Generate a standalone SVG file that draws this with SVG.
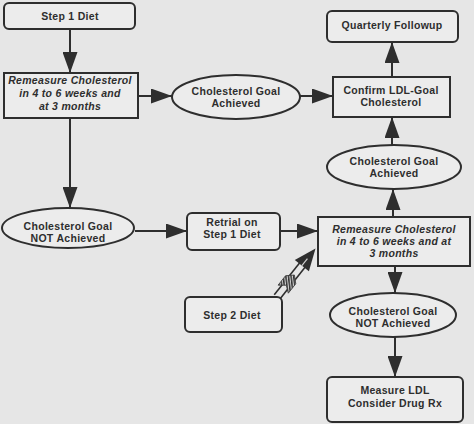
<svg xmlns="http://www.w3.org/2000/svg" width="474" height="424" viewBox="0 0 474 424">
<style>
  .box{fill:#ececec;stroke:#2e2e2e;stroke-width:2}
  .t{font-family:"Liberation Sans",Arial,sans-serif;font-weight:bold;font-size:10.5px;letter-spacing:0.3px;fill:#2e2e2e;text-anchor:middle}
  .it{font-style:italic}
  .c{stroke:#2e2e2e;stroke-width:2;fill:none}
</style>
<defs>
  <marker id="ah" viewBox="0 0 21 15" refX="21" refY="7.5" markerWidth="21" markerHeight="15" markerUnits="userSpaceOnUse" orient="auto">
    <path d="M0,0 L21,7.5 L0,15 Z" fill="#2e2e2e"/>
  </marker>
  <pattern id="hatch" width="2.6" height="2.6" patternUnits="userSpaceOnUse" patternTransform="rotate(45)">
    <rect width="2.6" height="2.6" fill="#d0d0d0"/>
    <rect width="1.5" height="2.6" fill="#333333"/>
  </pattern>
</defs>
<rect width="474" height="424" fill="#e6e6e6"/>

<g id="connectors">
  <line class="c" x1="70" y1="29" x2="70" y2="73" marker-end="url(#ah)"/>
  <line class="c" x1="138" y1="96" x2="172" y2="96" marker-end="url(#ah)"/>
  <line class="c" x1="300" y1="96" x2="333" y2="96" marker-end="url(#ah)"/>
  <line class="c" x1="392" y1="77" x2="392" y2="42" marker-end="url(#ah)"/>
  <line class="c" x1="392" y1="145" x2="392" y2="117" marker-end="url(#ah)"/>
  <line class="c" x1="393" y1="217" x2="393" y2="189" marker-end="url(#ah)"/>
  <line class="c" x1="70" y1="118" x2="70" y2="208" marker-end="url(#ah)"/>
  <line class="c" x1="135" y1="231" x2="187" y2="231" marker-end="url(#ah)"/>
  <line class="c" x1="280" y1="231" x2="318" y2="231" marker-end="url(#ah)"/>
  <line class="c" x1="395" y1="266" x2="395" y2="293" marker-end="url(#ah)"/>
  <line class="c" x1="395" y1="337" x2="395" y2="377" marker-end="url(#ah)"/>
  <g id="step2-arrow" transform="translate(277,297) rotate(-51.6)">
    <line x1="0" y1="-3.5" x2="42" y2="-3.5" stroke="#2e2e2e" stroke-width="1.6"/>
    <line x1="0" y1="3.5" x2="42" y2="3.5" stroke="#2e2e2e" stroke-width="1.6"/>
    <polygon points="10,-6.5 22,-6.5 28,0 22,6.5 10,6.5 15,0" fill="url(#hatch)" stroke="#3a3a3a" stroke-width="0.8"/>
    <polygon points="40,-9 62,0 40,9" fill="#2e2e2e"/>
    <line x1="40" y1="0" x2="49" y2="0" stroke="#cfcfcf" stroke-width="1.2"/>
  </g>
</g>

<g id="step1">
  <rect class="box" x="4" y="3" width="131" height="26" rx="5"/>
  <text class="t" x="70" y="19.5">Step 1 Diet</text>
</g>
<g id="remeasure1">
  <rect class="box" x="4" y="73" width="134" height="45"/>
  <text class="t it" x="70" y="84">Remeasure  Cholesterol</text>
  <text class="t it" x="70" y="97">in 4 to 6 weeks and</text>
  <text class="t it" x="70" y="110">at 3 months</text>
</g>
<g id="achieved1">
  <ellipse class="box" cx="236" cy="97" rx="64" ry="22"/>
  <text class="t" x="236" y="95">Cholesterol Goal</text>
  <text class="t" x="236" y="107">Achieved</text>
</g>
<g id="confirm">
  <rect class="box" x="333" y="77" width="117" height="40"/>
  <text class="t" x="391" y="94">Confirm  LDL-Goal</text>
  <text class="t" x="391" y="106">Cholesterol</text>
</g>
<g id="quarterly">
  <rect class="box" x="327" y="11" width="131" height="31" rx="5"/>
  <text class="t" x="392" y="29">Quarterly  Followup</text>
</g>
<g id="achieved2">
  <ellipse class="box" cx="394" cy="167" rx="67" ry="22"/>
  <text class="t" x="394" y="165">Cholesterol Goal</text>
  <text class="t" x="394" y="177">Achieved</text>
</g>
<g id="notachieved1">
  <ellipse class="box" cx="68" cy="228" rx="66" ry="20"/>
  <text class="t" x="68" y="229.5">Cholesterol Goal</text>
  <text class="t" x="68" y="242">NOT Achieved</text>
</g>
<g id="retrial">
  <rect class="box" x="187" y="213" width="93" height="37" rx="5"/>
  <text class="t" x="232" y="226">Retrial on</text>
  <text class="t" x="232" y="238">Step 1 Diet</text>
</g>
<g id="remeasure2">
  <rect class="box" x="318" y="217" width="152" height="49"/>
  <text class="t it" x="394" y="233">Remeasure  Cholesterol</text>
  <text class="t it" x="394" y="245">in 4 to 6 weeks and at</text>
  <text class="t it" x="394" y="257">3 months</text>
</g>
<g id="step2">
  <rect class="box" x="185" y="297" width="97" height="35" rx="5"/>
  <text class="t" x="232" y="318.5">Step 2 Diet</text>
</g>
<g id="notachieved2">
  <ellipse class="box" cx="393" cy="315" rx="63" ry="22"/>
  <text class="t" x="393" y="315">Cholesterol Goal</text>
  <text class="t" x="393" y="327">NOT Achieved</text>
</g>
<g id="measure">
  <rect class="box" x="327" y="377" width="136" height="45" rx="5"/>
  <text class="t" x="395" y="394">Measure  LDL</text>
  <text class="t" x="395" y="407">Consider Drug Rx</text>
</g>
</svg>
